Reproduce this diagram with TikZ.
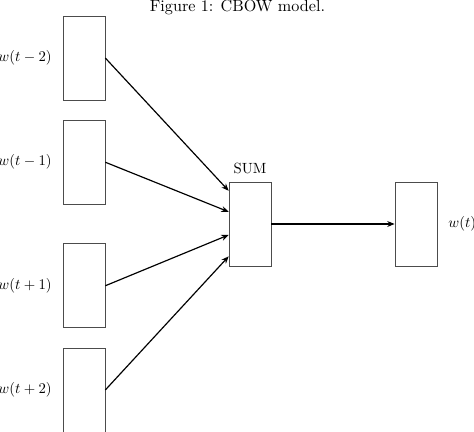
\documentclass[tikz,border=0pt]{standalone}
\usetikzlibrary{positioning,calc,arrows.meta}

\begin{document}
\begin{tikzpicture}[>={Stealth[length=5pt,width=4pt]},
  wordbox/.style={draw=black!70, minimum width=1cm, minimum height=2cm},
  link/.style={->, thick}]
\useasboundingbox (-5.952,-4.952) rectangle (5.333,5.333);
\node[anchor=base, font=\fontsize{10.95}{13.6}\selectfont] (caption) at (-0.298,5.06) {Figure 1: CBOW model.};
\node[wordbox] (sum) at (0,0) {}; %%Sum
\node[above=2pt of sum] (sumlabel) {SUM};
\node[wordbox] (out) at (3.95,0) {}; %%Output
\node[right=4pt of out] (outlabel) {$w(t)$};
\node[wordbox] (in1) at (-3.95,3.95) {}; %%Context
\node[wordbox] (in2) at (-3.95,1.47) {};
\node[wordbox] (in3) at (-3.95,-1.47) {};
\node[wordbox] (in4) at (-3.95,-3.95) {};
\node[left=4pt of in1] (lab1) {$w(t-2)$};
\node[left=4pt of in2] (lab2) {$w(t-1)$};
\node[left=4pt of in3] (lab3) {$w(t+1)$};
\node[left=4pt of in4] (lab4) {$w(t+2)$};
\draw[link] (in1.east) -- ($(sum.west)+(0,0.79)$);
\draw[link] (in2.east) -- ($(sum.west)+(0,0.29)$);
\draw[link] (in3.east) -- ($(sum.west)+(0,-0.26)$);
\draw[link] (in4.east) -- ($(sum.west)+(0,-0.77)$);
\draw[link] (sum.east) -- (out.west); %%Sum to output
\end{tikzpicture}
\end{document}
